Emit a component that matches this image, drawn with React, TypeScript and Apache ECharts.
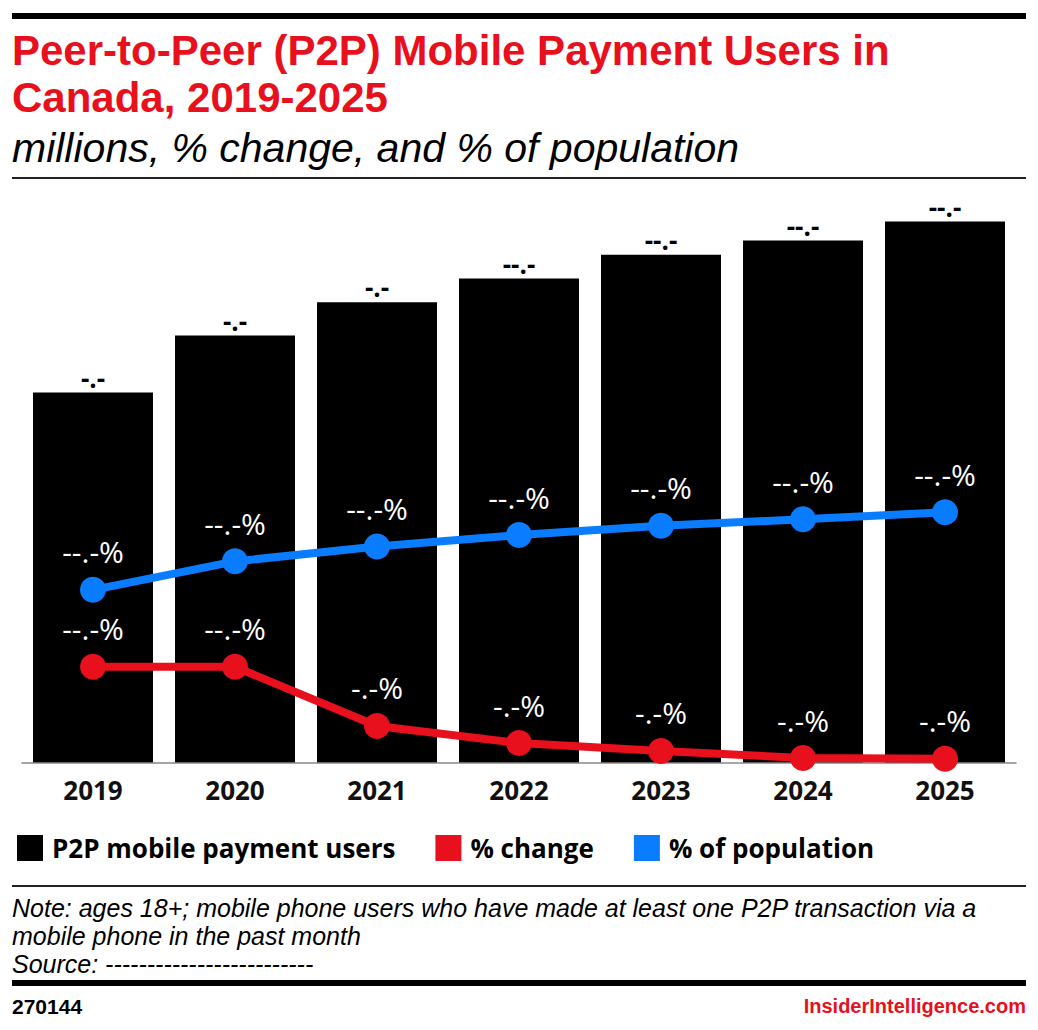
import React, { useEffect, useRef } from "react";
import * as echarts from "echarts";

const categories = ["2019", "2020", "2021", "2022", "2023", "2024", "2025"];
const usersMillions = [7.8, 9.0, 9.7, 10.2, 10.7, 11.0, 11.4];
const usersLabels = ["-.-", "-.-", "-.-", "--.-", "--.-", "--.-", "--.-"];
const pctChange = [13.5, 13.5, 5.2, 2.8, 1.7, 0.7, 0.6];
const pctChangeLabels = ["--.-%", "--.-%", "-.-%", "-.-%", "-.-%", "-.-%", "-.-%"];
const pctPopulation = [24.3, 28.3, 30.4, 32.0, 33.3, 34.2, 35.2];
const pctPopulationLabels = ["--.-%", "--.-%", "--.-%", "--.-%", "--.-%", "--.-%", "--.-%"];

const RED = "#e8101c";
const BLUE = "#0a7cff";
const FONT = "'Open Sans', Roboto, sans-serif";
const HEAD_FONT = "'Liberation Sans', Arial, sans-serif";

export default function App() {
  const ref = useRef<HTMLDivElement>(null);
  useEffect(() => {
    if (!ref.current) return;
    const chart = echarts.init(ref.current, undefined, { renderer: "svg" });
    const txt = (text: string, x: number, y: number, size: number, opts: any = {}) => ({
      type: "text",
      x,
      y,
      style: {
        text,
        fill: opts.fill || "#000",
        fontSize: size,
        fontWeight: opts.weight || "normal",
        fontStyle: opts.style || "normal",
        fontFamily: HEAD_FONT,
        align: opts.align || "left",
        verticalAlign: "middle",
      },
    });
    chart.setOption({
      animation: false,
      textStyle: { fontFamily: FONT },
      grid: { left: 22, right: 22, top: 193, bottom: 267, containLabel: false },
      legend: {
        left: 12,
        top: 830,
        itemWidth: 26,
        itemHeight: 26,
        itemGap: 40,
        icon: "rect",
        textStyle: { fontSize: 26, fontWeight: "bold", color: "#000", fontFamily: FONT, padding: [0, 0, 0, 4] },
        data: [
          { name: "P2P mobile payment users", itemStyle: { color: "#000" } },
          { name: "% change", itemStyle: { color: RED } },
          { name: "% of population", itemStyle: { color: BLUE } },
        ],
      },
      xAxis: {
        type: "category",
        data: categories,
        axisTick: { show: false },
        axisLine: { lineStyle: { color: "#888", width: 1.5 } },
        axisLabel: { fontSize: 26, fontWeight: "bold", color: "#111", margin: 14, fontFamily: FONT },
        z: 5,
      },
      yAxis: [
        { type: "value", min: 0, max: 12, show: false, splitLine: { show: false } },
        { type: "value", min: 0, max: 80, show: false, splitLine: { show: false } },
      ],
      series: [
        {
          name: "P2P mobile payment users",
          type: "bar",
          data: usersMillions,
          barCategoryGap: "15.5%",
          itemStyle: { color: "#000" },
          label: {
            show: true,
            position: "top",
            distance: 2,
            fontSize: 26,
            fontWeight: "bold",
            color: "#000",
            formatter: (p: any) => usersLabels[p.dataIndex],
          },
        },
        {
          name: "% change",
          type: "line",
          yAxisIndex: 1,
          data: pctChange,
          symbol: "circle",
          symbolSize: 26,
          lineStyle: { color: RED, width: 8 },
          itemStyle: { color: RED },
          z: 10,
          label: {
            show: true,
            position: "top",
            distance: 10,
            fontSize: 30,
            fontWeight: 500,
            color: "#fff",
            formatter: (p: any) => pctChangeLabels[p.dataIndex],
          },
        },
        {
          name: "% of population",
          type: "line",
          yAxisIndex: 1,
          data: pctPopulation,
          symbol: "circle",
          symbolSize: 26,
          lineStyle: { color: BLUE, width: 8 },
          itemStyle: { color: BLUE },
          z: 10,
          label: {
            show: true,
            position: "top",
            distance: 10,
            fontSize: 30,
            fontWeight: 500,
            color: "#fff",
            formatter: (p: any) => pctPopulationLabels[p.dataIndex],
          },
        },
      ],
      graphic: [
        { type: "rect", shape: { x: 12, y: 13, width: 1014, height: 6 }, style: { fill: "#000" } },
        txt("Peer-to-Peer (P2P) Mobile Payment Users in", 12, 50, 42, { weight: "bold", fill: RED }),
        txt("Canada, 2019-2025", 12, 97, 42, { weight: "bold", fill: RED }),
        txt("millions, % change, and % of population", 12, 148, 41, { style: "italic" }),
        { type: "rect", shape: { x: 12, y: 177, width: 1014, height: 2 }, style: { fill: "#222" } },
        { type: "rect", shape: { x: 12, y: 885, width: 1014, height: 2 }, style: { fill: "#222" } },
        txt("Note: ages 18+; mobile phone users who have made at least one P2P transaction via a", 12, 908, 25, { style: "italic" }),
        txt("mobile phone in the past month", 12, 936, 25, { style: "italic" }),
        txt("Source: -------------------------", 12, 964, 25, { style: "italic" }),
        { type: "rect", shape: { x: 12, y: 980, width: 1014, height: 6 }, style: { fill: "#000" } },
        txt("270144", 12, 1006, 21, { weight: "bold" }),
        txt("InsiderIntelligence.com", 1026, 1006, 20, { weight: "bold", fill: RED, align: "right" }),
      ],
    });
    return () => chart.dispose();
  }, []);
  return (
    <div
      ref={ref}
      style={{ position: "absolute", left: 0, top: 0, width: 1038, height: 1030, background: "#fff" }}
    />
  );
}
